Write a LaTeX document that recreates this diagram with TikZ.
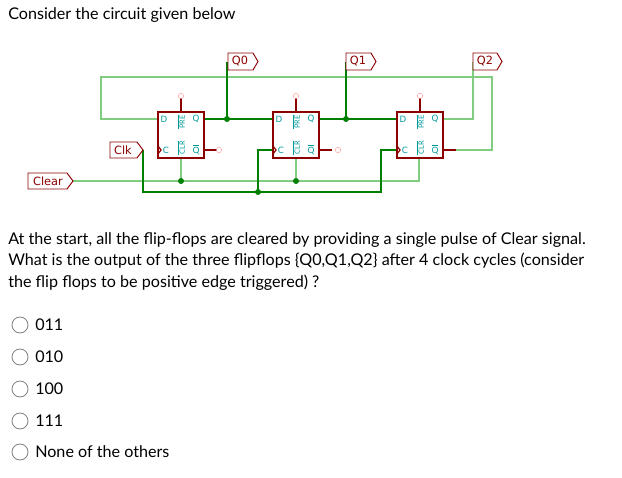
\documentclass[tikz,border=0pt]{standalone}
\usepackage{fontspec}
\setmainfont{Lato}
\newfontfamily\kfont{DejaVu Sans}
\begin{document}
\begin{tikzpicture}[x=0.75pt,y=-0.75pt,
  dg/.style={draw=green!50!black,line width=0.9pt},
  lg/.style={draw=green!60!black!50,line width=0.9pt},
  pin/.style={draw=red!55!black,line width=0.9pt},
  ffbox/.style={draw=red!55!black,line width=1.4pt},
  lab/.style={draw=red!55!black,line width=0.7pt,fill=white},
  labt/.style={font=\kfont\fontsize{8.5}{9}\selectfont,text=red!55!black},
  tl/.style={font=\kfont\fontsize{5.5}{6}\selectfont,text=teal!80!cyan,inner sep=0pt},
  dot/.style={circle,fill=green!50!black,inner sep=0pt,minimum size=4.5pt},
  oc/.style={circle,draw=red!40,inner sep=0pt,minimum size=4pt},
  txt/.style={font=\fontsize{12.1}{14}\selectfont,anchor=west,inner sep=0pt},
  rb/.style={circle,draw=gray,line width=0.6pt,minimum size=12pt,inner sep=0pt}]
\useasboundingbox (0,0) rectangle (622,478);
\node[txt] (title) at (8,15) {Consider the circuit given below};
% wires
\draw[lg] (158,119) -- (101,119) -- (101,77) -- (492,77) -- (492,150) -- (442,150);
\draw[dg] (204,119) -- (273,119);
\draw[dg] (319,119) -- (397,119);
\draw[dg] (227,119) -- (227,62);
\draw[dg] (346,119) -- (346,62);
\draw[lg] (442,119) -- (473,119) -- (473,62);
\draw[lg] (73,181) -- (419,181) -- (419,158);
\draw[lg] (181,158) -- (181,181);
\draw[lg] (296,158) -- (296,181);
\draw[dg] (143,150) -- (143,192) -- (381,192) -- (381,150) -- (397,150);
\draw[dg] (258,192) -- (258,150) -- (273,150);
\node[dot] (j1) at (227,119) {};
\node[dot] (j2) at (346,119) {};
\node[dot] (j3) at (181,181) {};
\node[dot] (j4) at (296,181) {};
\node[dot] (j5) at (258,192) {};
% flip-flops
\foreach \x/\n in {158/a,273/b,397/c}{
  \draw[pin] (\x+23,112) -- (\x+23,98);
  \node[oc] at (\x+23,96) {};
  \draw[pin] (\x+46,150) -- (\x+59,150);
  \draw[ffbox] (\x,112) rectangle (\x+46,158);
  \draw[pin] (\x,146) -- (\x+3,150) -- (\x,154);
  \node[tl,font=\kfont\fontsize{6.5}{7}\selectfont] at (\x+6,119) {D};
  \node[tl,font=\kfont\fontsize{6.5}{7}\selectfont] at (\x+8,150) {C};
  \node[tl,font=\kfont\fontsize{6.5}{7}\selectfont] at (\x+38,119) {Q};
  \node[tl,font=\kfont\fontsize{6.5}{7}\selectfont] at (\x+38,150) {$\overline{\mathrm{Q}}$};
  \node[tl,rotate=90] at (\x+23,122) {$\overline{\mathrm{PRE}}$};
  \node[tl,rotate=90] at (\x+23,148) {$\overline{\mathrm{CLR}}$};
}
\node[oc] at (219,150) {};
\node[oc] at (338,150) {};
% labels
\draw[lab] (228,53) -- (253,53) -- (258,61.5) -- (253,70) -- (228,70) -- cycle;
\node[labt] (q0) at (240,61.5) {Q0};
\draw[lab] (346,53) -- (371,53) -- (376,61.5) -- (371,70) -- (346,70) -- cycle;
\node[labt] (q1) at (358,61.5) {Q1};
\draw[lab] (473,53) -- (497,53) -- (502,61.5) -- (497,70) -- (473,70) -- cycle;
\node[labt] (q2) at (485,61.5) {Q2};
\draw[lab] (110,142) -- (137,142) -- (143,150) -- (137,158) -- (110,158) -- cycle;
\node[labt] (clk) at (123,150) {Clk};
\draw[lab] (28,173) -- (67,173) -- (73,181) -- (67,189) -- (28,189) -- cycle;
\node[labt] (clr) at (48,181) {Clear};
% text
\node[txt] (p1) at (8,240) {At the start, all the flip-flops are cleared by providing a single pulse of Clear signal.};
\node[txt] (p2) at (8,261) {What is the output of the three flipflops \{Q0,Q1,Q2\} after 4 clock cycles (consider};
\node[txt] (p3) at (8,283) {the flip flops to be positive edge triggered) ?};
\foreach \y/\t/\n in {325/011/o1,357/010/o2,389/100/o3,421/111/o4,452/None of the others/o5}{
  \node[rb] (r\n) at (20,\y) {};
  \node[txt] (\n) at (35,\y) {\t};
}
\end{tikzpicture}
\end{document}
